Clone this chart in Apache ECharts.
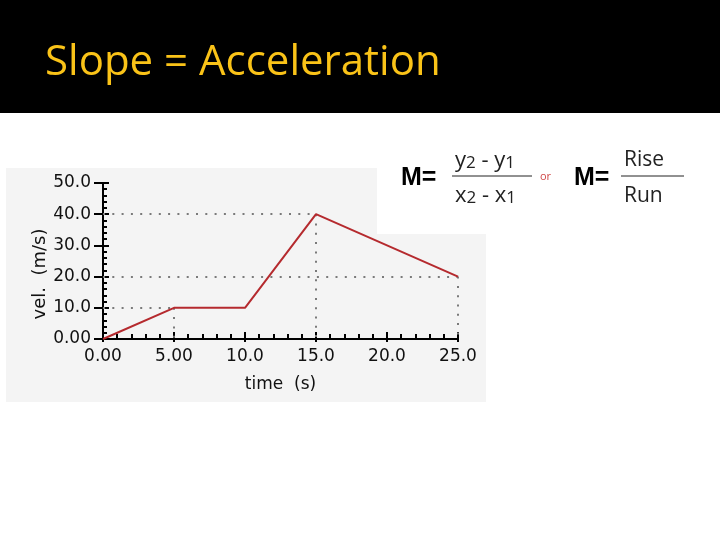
<!DOCTYPE html>
<html>
<head>
<meta charset="utf-8">
<script src="https://cdn.jsdelivr.net/npm/echarts@6/dist/echarts.min.js"></script>
<style>html,body{margin:0;padding:0;background:#fff;}#c{width:720px;height:540px;}</style>
</head>
<body>
<div id="c"></div>
<script>
// ---- data ----
var timeValues = [0, 5, 10, 15, 25];
var velValues = [0, 10, 10, 40, 20];
var dropPointIndex = [1, 3, 4];
var xTickLabels = ['0.00', '5.00', '10.0', '15.0', '20.0', '25.0'];
var yTickLabels = ['0.00', '10.0', '20.0', '30.0', '40.0', '50.0'];
var titleText = 'Slope = Acceleration';
var xName = 'time  (s)';
var yName = 'vel.  (m/s)';

var seriesData = timeValues.map(function (t, i) { return [t, velValues[i]]; });
var markData = [];
dropPointIndex.forEach(function (i) {
  markData.push([{ coord: [0, velValues[i]] }, { coord: [timeValues[i], velValues[i]] }]);
  markData.push([{ coord: [timeValues[i], velValues[i]] }, { coord: [timeValues[i], 0] }]);
});

var axisFont = 'DejaVu Sans';
var chart = echarts.init(document.getElementById('c'), null, { renderer: 'canvas' });
var fracRich = {
  a: { fontFamily: 'Open Sans', fontSize: 22, fill: '#222', verticalAlign: 'bottom' },
  b: { fontFamily: 'Open Sans', fontSize: 17, fill: '#222', verticalAlign: 'bottom' }
};
var option = {
  backgroundColor: '#ffffff',
  animation: false,
  grid: { left: 103, top: 183, width: 355, height: 156, containLabel: false },
  xAxis: [{
    type: 'value', min: 0, max: 25, interval: 5,
    name: xName, nameLocation: 'middle', nameGap: 37,
    nameTextStyle: { fontFamily: axisFont, fontSize: 17, color: '#111' },
    axisLine: { show: true, lineStyle: { color: '#000', width: 2 } },
    axisTick: { show: true, inside: true, length: 7, lineStyle: { color: '#000', width: 2 } },
    minorTick: { show: true, splitNumber: 5, length: 5, lineStyle: { color: '#000', width: 2 } },
    splitLine: { show: false },
    axisLabel: { margin: 9, fontFamily: axisFont, fontSize: 17, color: '#111',
      formatter: function (v) { return xTickLabels[Math.round(v / 5)]; } }
  }, {
    type: 'value', min: 0, max: 25, interval: 5, position: 'bottom',
    axisLine: { show: false },
    axisTick: { show: true, inside: false, length: 3, lineStyle: { color: '#000', width: 2 } },
    axisLabel: { show: false }, splitLine: { show: false }
  }],
  yAxis: [{
    type: 'value', min: 0, max: 50, interval: 10,
    axisLine: { show: true, lineStyle: { color: '#000', width: 2 } },
    axisTick: { show: true, inside: true, length: 6, lineStyle: { color: '#000', width: 2 } },
    minorTick: { show: true, splitNumber: 5, length: 4, lineStyle: { color: '#000', width: 2 } },
    splitLine: { show: false },
    axisLabel: { margin: 12, fontFamily: axisFont, fontSize: 17, color: '#111',
      formatter: function (v) { return yTickLabels[Math.round(v / 10)]; } }
  }, {
    type: 'value', min: 0, max: 50, interval: 10, position: 'left',
    axisLine: { show: false },
    axisTick: { show: true, inside: false, length: 9, lineStyle: { color: '#000', width: 2 } },
    axisLabel: { show: false }, splitLine: { show: false }
  }],
  series: [{
    type: 'line',
    data: seriesData,
    symbol: 'none',
    z: 5,
    lineStyle: { color: '#b52a2e', width: 2 },
    markLine: {
      silent: true, symbol: 'none', animation: false,
      label: { show: false },
      lineStyle: { color: '#7a7a7a', width: 2, type: [2, 7.3] },
      data: markData
    }
  }],
  graphic: [
    { type: 'rect', z: -10, shape: { x: 0, y: 0, width: 720, height: 113 }, style: { fill: '#000' } },
    { type: 'rect', z: -10, shape: { x: 6, y: 168, width: 371, height: 234 }, style: { fill: '#f4f4f4' } },
    { type: 'rect', z: -10, shape: { x: 377, y: 234, width: 109, height: 168 }, style: { fill: '#f4f4f4' } },
    { type: 'text', z: 10, x: 45, y: 63, style: { text: titleText, fill: '#fac318', font: '42px "Open Sans"', verticalAlign: 'middle' } },
    { type: 'text', z: 10, x: 40, y: 274, rotation: Math.PI / 2, style: { text: yName, fill: '#111', font: '18px "DejaVu Sans"', align: 'center', verticalAlign: 'middle' } },
    { type: 'text', z: 10, x: 401, y: 178, style: { text: 'M=', fill: '#000', font: 'bold 25px "Liberation Sans"', verticalAlign: 'middle' } },
    { type: 'text', z: 10, x: 455, y: 161, style: { text: '{a|y}{b|2}{a| - y}{b|1}', verticalAlign: 'middle', rich: fracRich } },
    { type: 'line', z: 10, shape: { x1: 452, y1: 176, x2: 532, y2: 176 }, style: { stroke: '#222', lineWidth: 1 } },
    { type: 'text', z: 10, x: 455, y: 196, style: { text: '{a|x}{b|2}{a| - x}{b|1}', verticalAlign: 'middle', rich: fracRich } },
    { type: 'text', z: 10, x: 540, y: 177, style: { text: 'or', fill: '#d04848', font: '11px "Open Sans"', verticalAlign: 'middle' } },
    { type: 'text', z: 10, x: 574, y: 178, style: { text: 'M=', fill: '#000', font: 'bold 25px "Liberation Sans"', verticalAlign: 'middle' } },
    { type: 'line', z: 10, shape: { x1: 621, y1: 176, x2: 684, y2: 176 }, style: { stroke: '#222', lineWidth: 1 } },
    { type: 'text', z: 10, x: 624, y: 160, style: { text: 'Rise', fill: '#222', font: '21px "Open Sans"', verticalAlign: 'middle' } },
    { type: 'text', z: 10, x: 624, y: 196, style: { text: 'Run', fill: '#222', font: '21px "Open Sans"', verticalAlign: 'middle' } }
  ]
};
chart.setOption(option);
</script>
</body>
</html>
